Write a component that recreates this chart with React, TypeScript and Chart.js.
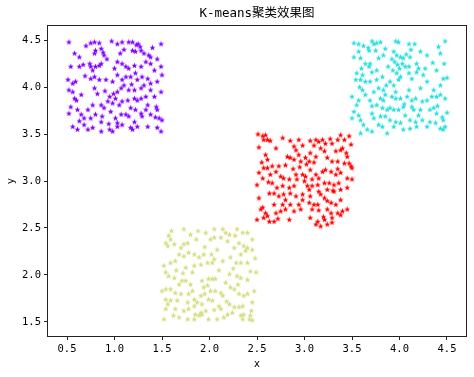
import React, { useEffect, useRef } from "react";
import { Chart, registerables } from "chart.js";

Chart.register(...registerables);

const TITLE = "K-means聚类效果图";
const X_LABEL = "x";
const Y_LABEL = "y";
const X_TICKS = [0.5, 1.0, 1.5, 2.0, 2.5, 3.0, 3.5, 4.0, 4.5];
const Y_TICKS = [1.5, 2.0, 2.5, 3.0, 3.5, 4.0, 4.5];
const X_MIN = 0.3;
const X_MAX = 4.7;
const Y_MIN = 1.35;
const Y_MAX = 4.65;
const COLORS = ["#8000ff", "#2adddd", "#d4dd80", "#ff0000"];

const cluster0 = [
  [0.52,4.48],[0.75,4.47],[0.79,4.48],[0.84,4.47],[0.97,4.49],[1.03,4.46],[1.08,4.48],[1.15,4.48],[1.19,4.48],[1.23,4.45],[1.25,4.46],[1.27,4.43],[1.49,4.46],
  [0.58,4.36],[0.63,4.32],[0.79,4.36],[0.88,4.37],[0.89,4.34],[1.06,4.36],[1.19,4.39],[1.22,4.38],[1.28,4.39],[1.31,4.36],[1.36,4.34],[1.38,4.32],[1.45,4.30],[0.80,4.39],[0.86,4.41],
  [0.54,4.22],[0.63,4.22],[0.67,4.24],[0.74,4.25],[0.75,4.22],[0.80,4.22],[0.84,4.23],[0.86,4.25],[0.77,4.18],[1.03,4.27],[1.08,4.25],[1.12,4.22],[1.15,4.20],[1.21,4.23],[1.28,4.22],[1.33,4.27],[1.38,4.25],[1.49,4.22],[1.42,4.18],
  [0.51,4.08],[0.56,4.04],[0.59,4.06],[0.75,4.09],[0.79,4.11],[0.84,4.08],[0.91,4.08],[1.03,4.13],[1.08,4.08],[1.12,4.11],[1.17,4.11],[1.22,4.15],[1.24,4.08],[1.29,4.11],[1.35,4.09],[1.38,4.04],[1.45,4.06],[1.50,4.13],[0.98,4.06],
  [0.52,3.97],[0.56,3.95],[0.65,3.92],[0.79,3.99],[0.82,3.93],[0.95,3.90],[0.99,3.93],[1.03,3.95],[1.07,3.99],[1.10,4.02],[1.15,3.97],[1.21,3.97],[1.28,3.99],[1.31,4.02],[1.38,3.97],[1.49,3.95],[1.42,3.90],
  [0.58,3.88],[0.60,3.86],[0.54,3.79],[0.61,3.76],[0.72,3.76],[0.77,3.81],[0.86,3.81],[0.89,3.78],[0.93,3.85],[0.98,3.83],[1.01,3.88],[1.05,3.81],[1.08,3.85],[1.14,3.86],[1.21,3.88],[1.24,3.86],[1.28,3.88],[1.33,3.90],[1.35,3.81],[1.44,3.79],[1.45,3.76],[1.22,3.76],[1.17,3.78],
  [0.52,3.72],[0.65,3.71],[0.68,3.67],[0.75,3.67],[0.80,3.71],[0.87,3.69],[0.96,3.74],[1.01,3.67],[1.07,3.71],[1.12,3.71],[1.15,3.69],[1.28,3.72],[1.29,3.69],[1.38,3.71],[1.47,3.67],[1.50,3.65],[0.86,3.63],[1.21,3.63],[1.03,3.62],
  [0.56,3.58],[0.61,3.55],[0.68,3.60],[0.72,3.55],[0.77,3.57],[0.86,3.53],[0.95,3.55],[1.03,3.58],[1.08,3.60],[1.17,3.57],[1.19,3.55],[1.24,3.58],[1.35,3.58],[1.45,3.57],[1.49,3.53],[0.98,3.53],
  [0.70,4.44],[0.92,4.30],[1.00,4.20],[0.69,4.12],[1.18,4.03],[0.90,3.96],[1.33,3.76],[0.63,3.64],[1.40,4.42],[1.10,4.40],[0.94,3.61],[1.43,3.68]
];

const cluster1 = [
  [3.52,4.47],[3.57,4.46],[3.71,4.49],[3.73,4.46],[3.76,4.47],[3.80,4.48],[3.96,4.49],[3.99,4.48],[4.10,4.46],[4.16,4.46],[4.48,4.49],[4.41,4.43],[4.43,4.36],
  [3.57,4.38],[3.68,4.39],[3.75,4.39],[3.94,4.38],[3.97,4.34],[4.01,4.32],[4.04,4.31],[4.11,4.32],[4.29,4.34],[3.52,4.32],[3.59,4.31],[3.64,4.25],[3.69,4.25],[3.78,4.31],[3.83,4.34],
  [4.03,4.25],[4.06,4.22],[4.10,4.22],[4.18,4.25],[4.20,4.20],[3.55,4.15],[3.61,4.13],[3.68,4.22],[3.71,4.16],[3.76,4.18],[3.82,4.11],[3.97,4.15],[4.01,4.11],[3.99,4.08],[4.10,4.15],
  [4.13,4.09],[4.18,4.16],[4.29,4.06],[4.39,4.18],[4.46,4.09],[4.50,4.10],[3.54,4.08],[3.59,4.08],[3.64,4.06],[3.69,4.06],[3.76,4.08],[3.90,4.06],[3.94,4.02],[3.83,3.97],[3.78,3.99],
  [3.96,3.95],[4.10,3.97],[4.22,3.99],[4.36,3.97],[4.43,4.02],[3.61,3.97],[3.73,3.95],[3.50,3.90],[3.57,3.86],[3.55,3.81],[3.69,3.86],[3.80,3.88],[3.83,3.86],[3.92,3.90],[3.96,3.88],
  [4.01,3.88],[4.08,3.90],[4.13,3.86],[4.17,3.88],[4.24,3.85],[4.29,3.86],[4.34,3.90],[4.39,3.90],[4.43,3.92],[4.48,3.88],[3.76,3.81],[3.82,3.78],[3.87,3.76],[3.90,3.78],[3.94,3.76],
  [3.99,3.76],[4.04,3.79],[4.13,3.79],[4.15,3.76],[4.22,3.76],[4.32,3.76],[4.36,3.78],[4.39,3.72],[4.50,3.73],[3.52,3.74],[3.57,3.70],[3.50,3.67],[3.59,3.65],[3.71,3.72],[3.73,3.67],
  [3.80,3.69],[3.85,3.69],[3.90,3.65],[3.96,3.63],[4.01,3.62],[4.11,3.65],[4.17,3.63],[4.24,3.65],[4.32,3.63],[4.38,3.62],[4.46,3.65],[3.62,3.60],[3.66,3.55],[3.59,3.51],[3.71,3.53],
  [3.82,3.58],[3.87,3.51],[3.94,3.58],[4.04,3.55],[4.11,3.56],[4.18,3.58],[4.29,3.58],[4.43,3.56],[4.46,3.55],[4.48,3.58],
  [3.92,4.30],[3.95,4.27],[3.98,4.24],[4.00,4.20],[3.93,4.18],[3.88,4.22],[4.07,4.35],[4.12,4.40],[3.85,4.41],[3.62,4.44],[3.67,4.42],[4.25,4.13],[4.27,4.20],[4.35,4.26],
  [3.60,4.20],[3.58,4.00],[3.64,3.92],[3.71,3.80],[3.85,3.92],[4.05,3.82],[4.20,3.70],[4.40,3.80],[4.45,3.68],[3.78,3.60],[4.06,3.70],[4.22,4.38],[4.47,4.25],[3.86,4.02]
];

const cluster2 = [
  [1.73,2.49],[1.80,2.43],[1.96,2.45],[2.05,2.49],[2.14,2.49],[2.17,2.45],[2.29,2.49],[2.35,2.45],[2.40,2.45],[1.57,2.42],[1.54,2.34],[1.56,2.31],[1.63,2.33],[1.59,2.38],[1.73,2.33],
  [1.77,2.34],[1.70,2.29],[2.05,2.40],[2.01,2.38],[2.12,2.40],[2.21,2.43],[2.19,2.36],[2.31,2.34],[2.36,2.31],[2.40,2.29],[2.45,2.27],[2.26,2.29],[2.08,2.27],[1.68,2.22],[1.73,2.20],
  [1.78,2.24],[1.84,2.22],[1.89,2.19],[1.94,2.22],[2.05,2.17],[2.14,2.15],[2.22,2.19],[2.33,2.22],[2.38,2.26],[1.52,2.10],[1.59,2.13],[1.64,2.15],[1.84,2.10],[1.91,2.11],[2.03,2.13],
  [2.28,2.13],[2.33,2.13],[2.40,2.13],[2.43,2.04],[2.49,2.03],[1.54,2.03],[1.57,1.99],[1.63,1.97],[1.71,1.94],[1.75,1.94],[1.82,2.03],[1.92,1.94],[1.99,1.96],[2.03,1.96],[2.06,1.96],
  [2.21,2.01],[2.29,1.99],[2.33,1.97],[2.17,1.92],[2.22,1.87],[2.26,1.85],[1.98,1.89],[1.50,1.83],[1.54,1.85],[1.59,1.85],[1.64,1.81],[1.70,1.80],[1.78,1.80],[1.82,1.83],[1.84,1.74],
  [1.91,1.78],[1.94,1.87],[2.01,1.83],[2.06,1.83],[2.12,1.81],[2.14,1.78],[2.31,1.80],[2.36,1.78],[2.40,1.80],[2.47,1.83],[1.54,1.74],[1.56,1.69],[1.59,1.73],[1.66,1.73],[1.77,1.71],
  [1.87,1.71],[1.92,1.69],[1.99,1.74],[2.03,1.73],[2.10,1.67],[2.21,1.69],[2.26,1.66],[2.31,1.66],[2.35,1.67],[2.45,1.71],[1.54,1.64],[1.64,1.64],[1.73,1.62],[1.78,1.64],[1.84,1.67],
  [1.85,1.58],[1.91,1.60],[1.96,1.62],[2.12,1.64],[2.19,1.58],[2.24,1.60],[2.33,1.57],[2.36,1.58],[2.43,1.57],[1.52,1.53],[1.68,1.55],[1.77,1.53],[1.84,1.53],[1.89,1.57],[1.92,1.58],
  [1.99,1.53],[2.08,1.53],[2.15,1.55],[2.35,1.53],[2.42,1.53],[2.45,1.52],
  [1.60,2.47],[1.88,2.47],[1.95,2.30],[2.02,2.22],[2.10,2.05],[1.65,2.05],[1.75,2.08],[2.40,1.95],[2.45,2.38],[1.98,2.13],[2.25,2.07],[1.80,1.90],[2.30,1.90],[2.44,1.62],[1.62,1.57],
  [2.05,1.63],[1.95,1.80],[1.86,2.38],[2.27,2.42],[1.68,1.90],[2.18,1.72],[1.72,2.02],[2.48,2.18]
];

const cluster3 = [
  [2.51,3.50],[2.56,3.48],[2.57,3.44],[2.61,3.44],[2.64,3.43],[2.52,3.36],[2.59,3.49],[2.77,3.46],[2.85,3.43],[2.94,3.44],[3.06,3.43],[3.12,3.44],[3.15,3.42],[3.19,3.44],[3.22,3.40],
  [3.29,3.40],[3.35,3.44],[3.38,3.49],[3.42,3.44],[3.47,3.48],[3.49,3.39],[3.38,3.33],[3.33,3.32],[3.45,3.26],[2.89,3.37],[2.91,3.33],[3.17,3.35],[3.21,3.32],[2.59,3.28],[2.61,3.23],
  [2.82,3.26],[2.85,3.25],[2.89,3.23],[2.94,3.28],[2.96,3.21],[3.01,3.25],[3.05,3.21],[3.12,3.26],[3.06,3.30],[3.24,3.25],[3.29,3.21],[3.35,3.21],[3.42,3.19],[3.47,3.19],[3.50,3.14],
  [3.49,3.16],[2.57,3.14],[2.61,3.14],[2.66,3.16],[2.73,3.16],[2.80,3.17],[2.52,3.09],[2.56,3.03],[2.64,3.07],[2.75,3.05],[2.78,3.03],[2.84,3.02],[2.91,3.07],[2.92,3.02],[2.98,3.07],
  [3.01,3.05],[3.06,3.12],[3.12,3.07],[3.15,3.03],[3.19,3.10],[3.22,3.12],[3.28,3.10],[3.33,3.07],[3.38,3.09],[3.45,3.03],[3.50,3.02],[3.21,2.98],[3.26,2.98],[3.31,2.96],[3.36,2.98],
  [2.50,2.96],[2.66,2.98],[2.71,2.93],[2.77,2.95],[2.84,2.93],[2.89,2.95],[3.03,2.95],[3.05,2.91],[3.08,2.95],[3.14,2.96],[3.15,2.89],[3.24,2.91],[3.31,2.89],[3.38,2.91],[3.45,2.93],
  [2.63,2.87],[2.68,2.87],[2.73,2.84],[2.78,2.86],[2.85,2.87],[2.91,2.84],[2.98,2.86],[3.06,2.84],[3.17,2.86],[3.21,2.82],[3.24,2.79],[2.52,2.82],[2.56,2.72],[2.68,2.75],[2.77,2.75],
  [2.85,2.75],[2.94,2.75],[2.98,2.80],[3.05,2.77],[3.10,2.75],[3.14,2.75],[3.28,2.77],[3.33,2.75],[3.38,2.80],[2.54,2.70],[2.59,2.66],[2.61,2.63],[2.70,2.66],[2.75,2.68],[2.80,2.70],
  [2.89,2.68],[2.96,2.70],[3.08,2.70],[3.15,2.69],[3.24,2.70],[3.28,2.66],[3.35,2.66],[3.40,2.68],[3.45,2.70],[2.50,2.59],[2.57,2.61],[2.63,2.57],[2.68,2.57],[2.84,2.59],[3.06,2.61],
  [3.14,2.57],[3.21,2.59],[3.29,2.61],[3.38,2.64],[3.12,2.54],[3.17,2.52],[3.24,2.54],[3.29,2.56],
  [2.88,3.13],[2.95,3.15],[3.02,3.18],[3.10,3.20],[3.00,3.00],[3.08,3.02],[2.70,3.10],[2.62,2.99],[2.80,2.80],[3.20,2.62],[3.30,2.90],[3.40,3.35],[3.44,3.30],[3.27,3.45],[2.98,3.38],
  [2.70,3.35],[2.55,3.20],[3.10,3.38],[3.35,3.13],[2.72,2.60]
];

const CLUSTERS = [cluster0, cluster1, cluster2, cluster3];

function starImage(color: string): HTMLCanvasElement {
  const c = document.createElement("canvas");
  c.width = 7;
  c.height = 7;
  const g = c.getContext("2d")!;
  const cx = 3.5, cy = 3.7, R = 3.2, r = 1.3;
  g.beginPath();
  for (let i = 0; i < 10; i++) {
    const rad = i % 2 === 0 ? R : r;
    const a = -Math.PI / 2 + (i * Math.PI) / 5;
    const px = cx + rad * Math.cos(a);
    const py = cy + rad * Math.sin(a);
    if (i === 0) g.moveTo(px, py);
    else g.lineTo(px, py);
  }
  g.closePath();
  g.fillStyle = color;
  g.fill();
  return c;
}

const decorPlugin = {
  id: "decor",
  afterDraw(chart: any) {
    const { ctx, chartArea: a } = chart;
    ctx.save();
    ctx.strokeStyle = "#222";
    ctx.lineWidth = 1;
    ctx.strokeRect(Math.round(a.left) - 0.5, Math.round(a.top) - 0.5, Math.round(a.right - a.left) + 1, Math.round(a.bottom - a.top) + 1);
    ctx.fillStyle = "#000";
    ctx.textAlign = "center";
    ctx.textBaseline = "middle";
    ctx.font = '12.5px "DejaVu Sans Mono", "Noto Sans CJK SC", sans-serif';
    ctx.fillText(TITLE, (a.left + a.right) / 2, 14);
    ctx.font = '10px "DejaVu Sans", sans-serif';
    ctx.fillText(X_LABEL, (a.left + a.right) / 2, 364);
    ctx.translate(11, (a.top + a.bottom) / 2);
    ctx.rotate(-Math.PI / 2);
    ctx.fillText(Y_LABEL, 0, 0);
    ctx.restore();
  },
};

export default function App() {
  const ref = useRef<HTMLCanvasElement | null>(null);

  useEffect(() => {
    if (!ref.current) return;
    const datasets = CLUSTERS.map((pts, i) => {
      const img = starImage(COLORS[i]);
      return {
        label: "cluster " + i,
        data: pts.map((p) => ({ x: p[0], y: p[1] })),
        pointStyle: img as any,
        pointRadius: 3.5,
        backgroundColor: COLORS[i],
        borderColor: COLORS[i],
      };
    });
    const tickFont = { family: '"DejaVu Sans Mono", monospace', size: 10.5 };
    const chart = new Chart(ref.current, {
      type: "scatter",
      data: { datasets },
      options: {
        animation: false,
        responsive: false,
        events: [],
        layout: { padding: { top: 26, right: 8, left: 0, bottom: 0 } },
        plugins: {
          legend: { display: false },
          title: { display: false },
          tooltip: { enabled: false },
        },
        scales: {
          x: {
            type: "linear",
            min: X_MIN,
            max: X_MAX,
            afterBuildTicks: (s: any) => {
              s.ticks = X_TICKS.map((v) => ({ value: v }));
            },
            afterFit: (s: any) => {
              s.height = 41;
            },
            ticks: {
              color: "#000",
              font: tickFont,
              padding: 3,
              maxRotation: 0,
              autoSkip: false,
              callback: (v: any) => Number(v).toFixed(1),
            },
            grid: { display: true, drawOnChartArea: false, drawTicks: true, tickLength: 4, color: "#222" },
            border: { display: false },
          },
          y: {
            type: "linear",
            min: Y_MIN,
            max: Y_MAX,
            afterBuildTicks: (s: any) => {
              s.ticks = Y_TICKS.map((v) => ({ value: v }));
            },
            afterFit: (s: any) => {
              s.width = 48;
            },
            ticks: {
              color: "#000",
              font: tickFont,
              padding: 3,
              autoSkip: false,
              callback: (v: any) => Number(v).toFixed(1),
            },
            grid: { display: true, drawOnChartArea: false, drawTicks: true, tickLength: 4, color: "#222" },
            border: { display: false },
          },
        },
      },
      plugins: [decorPlugin],
    });
    return () => chart.destroy();
  }, []);

  return (
    <div style={{ position: "absolute", left: 0, top: 0, width: 474, height: 377, background: "#fff" }}>
      <canvas ref={ref} width={474} height={377} style={{ display: "block" }} />
    </div>
  );
}
